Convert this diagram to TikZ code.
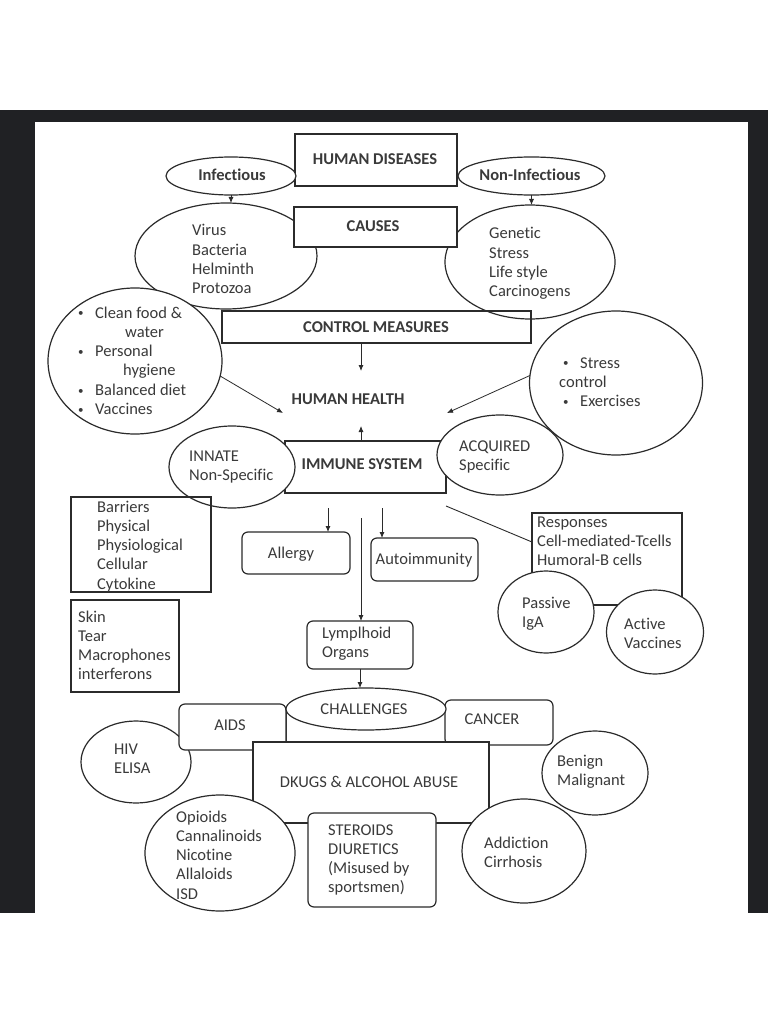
\documentclass[tikz,border=0pt]{standalone}
\usepackage{fontspec}
\setmainfont{Carlito}[Ligatures=NoCommon]
\usetikzlibrary{shapes.geometric,arrows.meta,calc}
\definecolor{framec}{HTML}{202124}
\definecolor{linec}{HTML}{2B2B2B}
\definecolor{txtc}{HTML}{3A3A3A}
\newcommand\fs{\fontsize{16.5}{19.3}\selectfont}
\newcommand\bul{\makebox[17pt][l]{\raisebox{1.2pt}{\fontsize{11}{11}\selectfont\textbullet}}}
\newcommand\mlines[1]{\begin{tabular}[t]{@{}l@{}}#1\end{tabular}}
\begin{document}
\begin{tikzpicture}[x=1pt,y=-1pt,
  shp/.style={draw=linec, line width=1.2pt, inner sep=0pt, outer sep=0pt},
  sbox/.style={shp, rectangle},
  rbox/.style={shp, rectangle, rounded corners=6pt},
  ell/.style={shp, ellipse},
  wf/.style={fill=white},
  txt/.style={inner sep=0pt, anchor=base west, text=txtc, font=\fs},
  ctxt/.style={inner sep=0pt, anchor=base, text=txtc, font=\fs},
  btxt/.style={inner sep=0pt, anchor=base, text=txtc, font=\fs\bfseries},
  arr/.style={draw=linec, line width=0.8pt, -{Latex[length=6pt,width=5pt]}},
  ln/.style={draw=linec, line width=0.9pt}]
\useasboundingbox (0,0) rectangle (768,1024);
\fill[white] (0,0) rectangle (768,1024);
\fill[framec] (0,110) rectangle (768,913);
\fill[white] (35,122) rectangle (748,913);

% top
\node[sbox, wf, minimum width=162pt, minimum height=52pt] (hd) at (376,160) {};
\node[ell, wf, minimum width=130pt, minimum height=38pt] (infectious) at (231,176) {};
\node[ell, wf, minimum width=147pt, minimum height=38pt] (noninf) at (531.5,176) {};
\node[ell, wf, minimum width=182pt, minimum height=106pt] (virus) at (226,256) {};
\node[ell, wf, minimum width=170pt, minimum height=114pt] (genetic) at (530,262) {};
\node[sbox, wf, minimum width=163pt, minimum height=40pt] (causes) at (375.5,227) {};
\node[ell, wf, minimum width=174pt, minimum height=146pt] (cleanfood) at (135,361) {};
\node[ell, wf, minimum width=173pt, minimum height=144pt] (stress) at (616,383) {};
\node[sbox, minimum width=309pt, minimum height=32pt] (control) at (376.5,327) {};

% immune
\node[sbox, wf, minimum width=161pt, minimum height=52pt] (immune) at (365.5,467) {};
\node[ell, wf, minimum width=126pt, minimum height=82pt] (innate) at (232,467) {};
\node[ell, wf, minimum width=126pt, minimum height=80pt] (acquired) at (500,455) {};

\node[sbox, minimum width=140pt, minimum height=95pt] (barriers) at (141,544.5) {};
\node[sbox, minimum width=108pt, minimum height=92pt] (skin) at (125,646) {};
\node[rbox, minimum width=108pt, minimum height=42pt] (allergy) at (296,553) {};
\node[rbox, minimum width=107pt, minimum height=43pt] (autoimm) at (424.5,559.5) {};
\node[rbox, minimum width=106pt, minimum height=48pt] (lymph) at (360,645) {};
\node[sbox, minimum width=150pt, minimum height=92pt] (responses) at (607,559) {};
\node[ell, wf, minimum width=96pt, minimum height=82pt] (passive) at (546,612) {};
\node[ell, wf, minimum width=97pt, minimum height=84pt] (active) at (655,632) {};

% bottom
\node[sbox, minimum width=160pt, minimum height=33pt] (chrect) at (366,725.5) {};
\node[ell, wf, minimum width=110pt, minimum height=82pt] (hiv) at (136,762) {};
\node[rbox, wf, minimum width=107pt, minimum height=46pt] (aids) at (232.5,727) {};
\node[rbox, wf, minimum width=108pt, minimum height=45pt] (cancer) at (499,722.5) {};
\node[ell, wf, minimum width=160pt, minimum height=42pt] (challenges) at (366,709) {};
\node[sbox, wf, minimum width=236pt, minimum height=81pt] (drugs) at (371,782.5) {};
\node[ell, wf, minimum width=106pt, minimum height=84pt] (benign) at (595,773) {};
\node[ell, wf, minimum width=150pt, minimum height=116pt] (opioids) at (220,853) {};
\node[ell, wf, minimum width=124pt, minimum height=104pt] (addiction) at (524,851) {};
\node[rbox, wf, minimum width=128pt, minimum height=94pt] (steroids) at (372,860) {};

% texts
\node[btxt] (t_hd) at (375,165) {HUMAN DISEASES};
\node[btxt] (t_inf) at (232,181) {Infectious};
\node[btxt] (t_ninf) at (530,181) {Non-Infectious};
\node[btxt] (t_causes) at (373,232) {CAUSES};
\node[txt] (t_virus) at (192,236) {\mlines{Virus\\Bacteria\\Helminth\\Protozoa}};
\node[txt] (t_gen) at (489,239) {\mlines{Genetic\\Stress\\Life style\\Carcinogens}};
\node[btxt] (t_control) at (376,332) {CONTROL MEASURES};
\node[txt] (t_clean) at (78,318) {\mlines{\bul Clean food \&\\\hspace*{47pt}water\\\bul Personal\\\hspace*{45pt}hygiene\\\bul Balanced diet\\\bul Vaccines}};
\node[txt] (t_stress) at (559,368) {\mlines{\hspace*{4pt}\bul Stress\\control\\\hspace*{4pt}\bul Exercises}};
\node[btxt] (health) at (348,404) {HUMAN HEALTH};
\node[btxt] (t_immune) at (362,469) {IMMUNE SYSTEM};
\node[txt] (t_innate) at (189,461) {\mlines{INNATE\\Non-Specific}};
\node[txt] (t_acq) at (459,451) {\mlines{ACQUIRED\\Specific}};
\node[txt] (t_barr) at (97,512) {\mlines{Barriers\\Physical\\Physiological\\Cellular\\Cytokine}};
\node[txt] (t_skin) at (78,622) {\mlines{Skin\\Tear\\Macrophones\\interferons}};
\node[ctxt] (t_allergy) at (291,558) {Allergy};
\node[ctxt] (t_auto) at (424,564) {Autoimmunity};
\node[txt] (t_lymph) at (322,638) {\mlines{Lymplhoid\\Organs}};
\node[txt] (t_resp) at (537,527) {\mlines{Responses\\Cell-mediated-Tcells\\Humoral-B cells}};
\node[txt] (t_pass) at (522,608) {\mlines{Passive\\IgA}};
\node[txt] (t_act) at (624,629) {\mlines{Active\\Vaccines}};
\node[ctxt] (t_chall) at (364,714) {CHALLENGES};
\node[ctxt] (t_aids) at (230,730) {AIDS};
\node[ctxt] (t_cancer) at (492,724) {CANCER};
\node[txt] (t_hiv) at (114,754) {\mlines{HIV\\ELISA}};
\node[ctxt] (t_drugs) at (369,787) {DKUGS \& ALCOHOL ABUSE};
\node[txt] (t_benign) at (557,766) {\mlines{Benign\\Malignant}};
\node[txt] (t_opi) at (176,822) {\mlines{Opioids\\Cannalinoids\\Nicotine\\Allaloids\\ISD}};
\node[txt] (t_ster) at (328,835) {\mlines{STEROIDS\\DIURETICS\\(Misused by\\sportsmen)}};
\node[txt] (t_add) at (484,848) {\mlines{Addiction\\Cirrhosis}};

% connectors
\coordinate (hhTop) at (361,371);
\coordinate (hhBot) at (361,426);
\coordinate (hhL) at (283,413);
\coordinate (hhR) at (447,413);
\coordinate (a1) at (328,508);
\coordinate (a2) at (382,508);
\coordinate (a3) at (361,518);
\coordinate (a4) at (446,506);
\coordinate (a5) at ($(responses.north west)+(0,29)$);
\draw[arr] (infectious.south) -- (infectious.south |- virus.north);
\draw[arr] (noninf.south) -- (noninf.south |- genetic.north);
\draw[arr] (control.south -| hhTop) -- (hhTop);
\draw[arr] (immune.north -| hhBot) -- (hhBot);
\draw[arr] (cleanfood.-10) -- (hhL);
\draw[arr] (stress.175) -- (hhR);
\draw[arr] (a1) -- (a1 |- allergy.north);
\draw[arr] (a2) -- (a2 |- autoimm.north);
\draw[arr] (a3) -- (a3 |- lymph.north);
\draw[arr] (lymph.south) -- (lymph.south |- challenges.north);
\draw[ln] (a4) -- (a5);
\end{tikzpicture}
\end{document}
